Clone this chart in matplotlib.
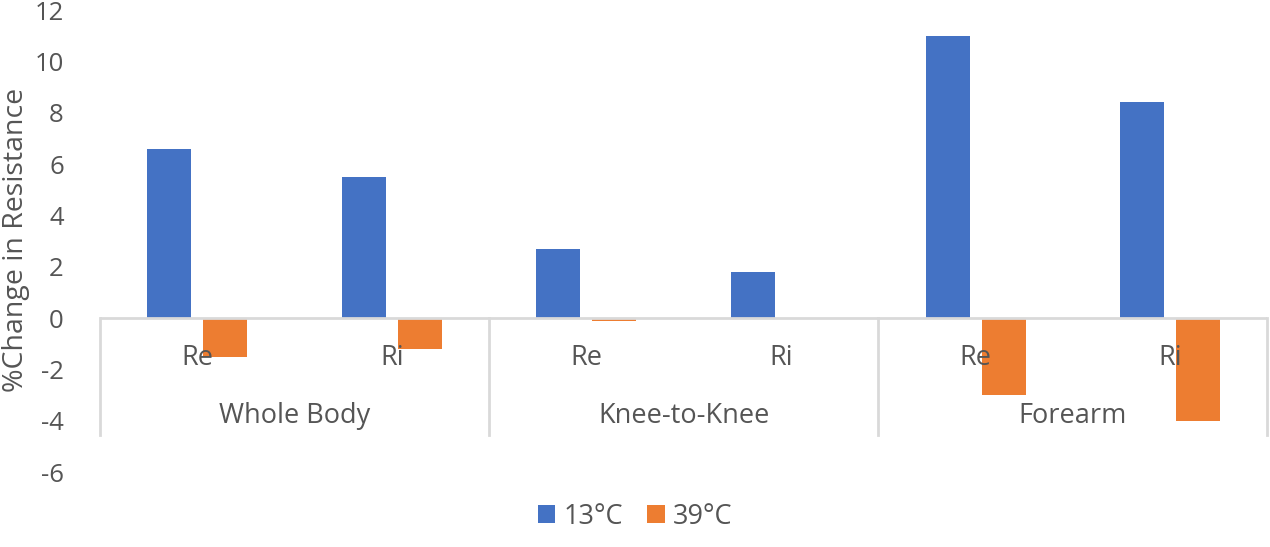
import numpy as np
import matplotlib
matplotlib.use("Agg")
import matplotlib.pyplot as plt
import matplotlib.transforms as mtransforms

plt.rcParams['font.family'] = ['Open Sans', 'DejaVu Sans']
plt.rcParams['axes.unicode_minus'] = False

groups = ['Whole Body', 'Knee-to-Knee', 'Forearm']
subs = ['Re', 'Ri', 'Re', 'Ri', 'Re', 'Ri']
cold = [6.6, 5.5, 2.7, 1.8, 11.0, 8.4]     # 13°C
warm = [-1.5, -1.2, -0.1, 0.0, -3.0, -4.0]  # 39°C
series_names = ['13°C', '39°C']

blue = '#4472C4'
orange = '#ED7D31'
txt = '#555555'
grid = '#D9D9D9'
fs = 18.5

fig = plt.figure(figsize=(12.7, 5.47), dpi=100)
ax = fig.add_axes([0.0787, 0.137, 0.9193, 0.8446])

x = np.arange(len(subs))
w = 0.226
off = 0.144
ax.bar(x - off, cold, w, color=blue, label=series_names[0], zorder=2)
ax.bar(x + off, warm, w, color=orange, label=series_names[1], zorder=2)

ax.set_xlim(-0.5, len(subs) - 0.5)
ax.set_ylim(-6, 12)
ax.set_yticks(np.arange(-6, 13, 2))
ax.tick_params(axis='y', length=0, labelsize=fs, labelcolor=txt, pad=26)
ax.set_xticks([])
for s in ax.spines.values():
    s.set_visible(False)

# category axis at zero
ax.axhline(0, color=grid, lw=2, zorder=3)
tr = mtransforms.blended_transform_factory(ax.transData, ax.transAxes)
zero_frac = 6 / 18
for b in [-0.5, 1.5, 3.5, 5.5]:
    ax.plot([b, b], [zero_frac, 0.08], color=grid, lw=2, transform=tr,
            clip_on=False, zorder=3)
for i, s in enumerate(subs):
    ax.text(i, 0.247, s, transform=tr, ha='center', va='center',
            fontsize=19.5, color=txt)
for g, name in enumerate(groups):
    ax.text(2 * g + 0.5, 0.121, name, transform=tr, ha='center', va='center',
            fontsize=19.5, color=txt)

fig.text(16 / 1270, 1 - 240 / 547, '%Change in Resistance', rotation=90,
         ha='center', va='center', fontsize=20.5, color=txt)

fig.legend(loc='lower center', bbox_to_anchor=(0.5, -0.015), ncol=2,
           frameon=False, fontsize=19.5, labelcolor=txt, handlelength=0.65,
           handleheight=0.65, handletextpad=0.3, columnspacing=0.9)

fig.savefig('out.png', dpi=100)
